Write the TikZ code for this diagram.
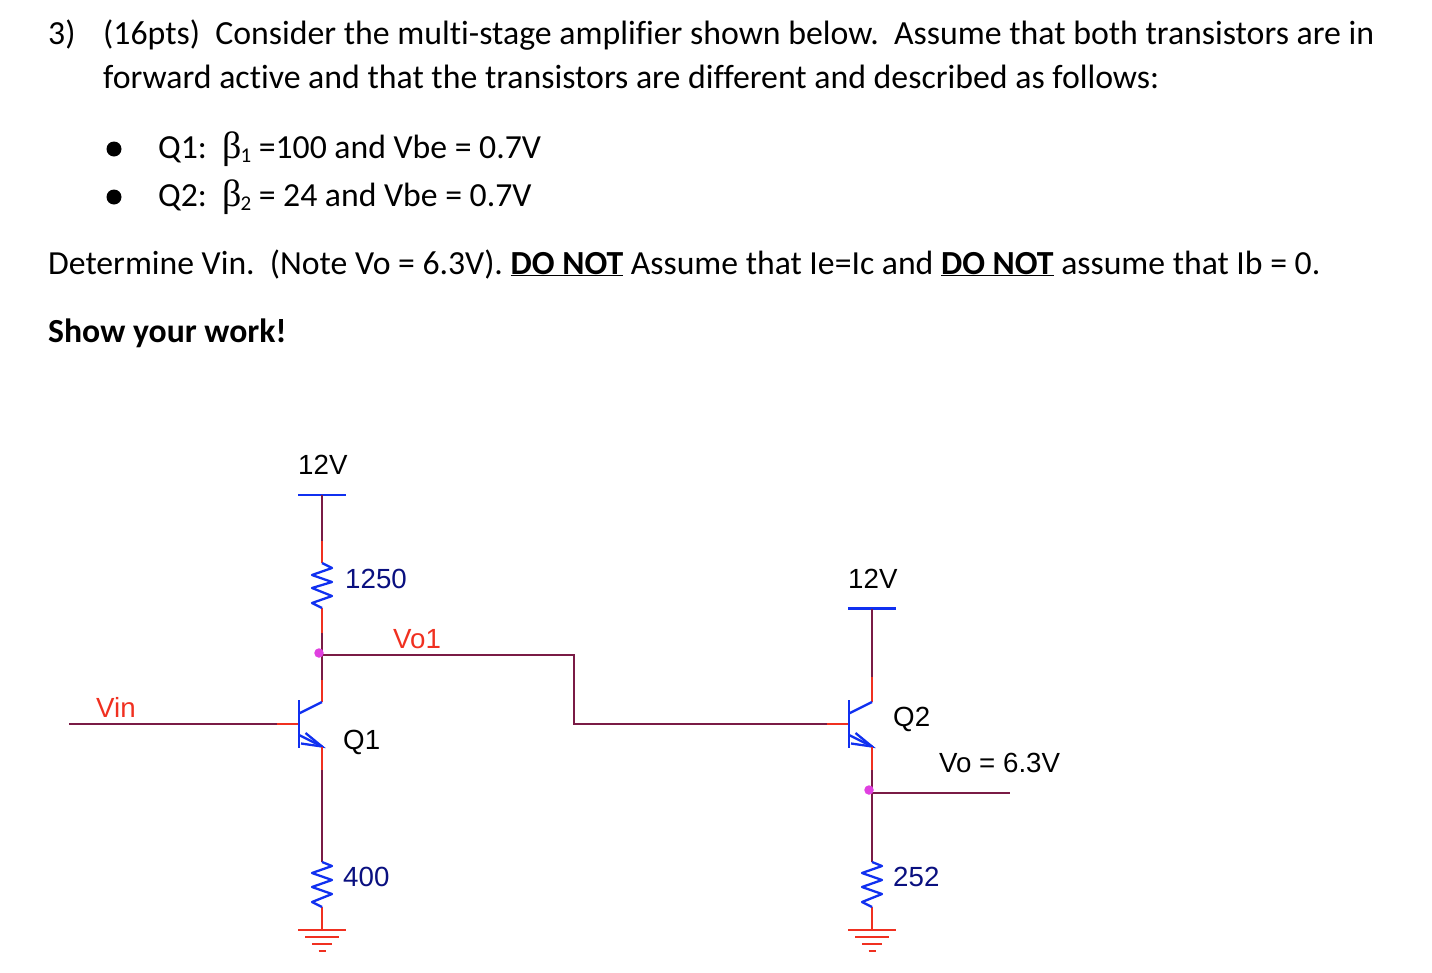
\documentclass[tikz,border=0pt]{standalone}
\usepackage{fontspec}
\setmainfont[RawFeature=-liga]{Carlito}
\newfontfamily\lab{Liberation Sans}
\newfontfamily\grk{Liberation Serif}
\newcommand{\bta}[1]{{\grk\fontsize{38}{38}\selectfont β}\kern-1pt\raisebox{-4pt}{\fontsize{21}{21}\selectfont #1}}
\definecolor{wm}{HTML}{7A1B45}
\definecolor{wr}{HTML}{F03020}
\definecolor{wb}{HTML}{1030F0}
\definecolor{nv}{HTML}{0A1080}
\definecolor{mg}{HTML}{E040E0}
\begin{document}
\begin{tikzpicture}[x=1pt,y=-1pt,
  txt/.style={anchor=base west,inner sep=0pt,font=\fontsize{33.7}{36}\selectfont,text=black},
  txtb/.style={anchor=base west,inner sep=0pt,font=\fontsize{33.8}{36}\selectfont,text=black},
  lbl/.style={anchor=base west,inner sep=0pt,font=\lab\fontsize{27.7}{32}\selectfont},
  mw/.style={draw=wm,line width=2.3pt},
  rw/.style={draw=wr,line width=2.3pt},
  bw/.style={draw=wb,line width=2.3pt},
  dotn/.style={circle,fill=mg,inner sep=0pt,minimum size=9.5pt},
  bull/.style={circle,fill=black,inner sep=0pt,minimum size=15pt}]
\useasboundingbox (0,0) rectangle (1432,972);
\node[txt] (t1) at (48,44) {3)};
\node[txtb] (t1b) at (103,44) {(16pts)\ \ Consider the multi-stage amplifier shown below.\ \ Assume that both transistors are in};
\node[txtb] (t2) at (103,88) {forward active and that the transistors are different and described as follows:};
\node[bull] (b1) at (114,149) {};
\node[bull] (b2) at (114,197) {};
\node[txt] (t3) at (158,158) {Q1:\ \ \bta{1} =100 and Vbe = 0.7V};
\node[txt] (t4) at (158,206) {Q2:\ \ \bta{2} = 24 and Vbe = 0.7V};
\node[txt] (t5) at (48,274) {Determine Vin.\ \ (Note Vo = 6.3V). \textbf{\underline{DO NOT}} Assume that Ie=Ic and \textbf{\underline{DO NOT}} assume that Ib = 0.};
\node[txt] (t6) at (48,342) {\textbf{Show your work!}};

% labels
\node[lbl,text=black] (v1) at (298,474) {12V};
\node[lbl,text=black] (v2) at (848,588) {12V};
\node[lbl,text=nv] (r1t) at (345,588) {1250};
\node[lbl,text=nv] (r2t) at (343,886) {400};
\node[lbl,text=nv] (r3t) at (893,886) {252};
\node[lbl,text=wr] (vo1) at (393,648) {Vo1};
\node[lbl,text=wr] (vin) at (96,717) {Vin};
\node[lbl,text=black] (q1t) at (343,749) {Q1};
\node[lbl,text=black] (q2t) at (893,726) {Q2};
\node[lbl,text=black] (vot) at (939,772) {Vo = 6.3V};

% coordinates
\foreach \n/\x in {a/322,b/872}{
  \coordinate (\n e) at (\x,746.5);
  \coordinate (\n c) at (\x,702);
  \coordinate (\n ew) at (\x,770);
  \coordinate (\n rt) at (\x,862);
  \coordinate (\n rb) at (\x,907);
  \coordinate (\n g) at (\x,930);
}
\coordinate (vcc1) at (322,495);
\coordinate (vcc1r) at (322,541);
\coordinate (r1a) at (322,563);
\coordinate (r1b) at (322,608);
\coordinate (r1c) at (322,633);
\coordinate (n1) at (322,655);
\coordinate (c1top) at (322,680);
\coordinate (in) at (69,724);
\coordinate (inr) at (277,724);
\coordinate (b1p) at (299,724);
\coordinate (jog1) at (574,655);
\coordinate (jog2) at (574,724);
\coordinate (inr2) at (827,724);
\coordinate (b2p) at (849,724);
\coordinate (vcc2) at (872,608.5);
\coordinate (c2top) at (872,677);
\coordinate (n2) at (872,793);
\coordinate (out) at (1010,793);

\draw[bw] (298,495) -- (346,495);
\draw[bw] (848,608.5) -- (896,608.5);
\draw[mw] (vcc1) -- (vcc1r);
\draw[rw] (vcc1r) -- (r1a);
\draw[rw] (r1b) -- (r1c);
\draw[mw] (r1c) -- (n1) -- (c1top);
\draw[rw] (c1top) -- (ac);
\draw[mw] (n1) -- (jog1) -- (jog2) -- (inr2);
\draw[rw] (inr2) -- (b2p);
\draw[mw] (in) -- (inr);
\draw[rw] (inr) -- (b1p);
\draw[mw] (vcc2) -- (c2top);
\draw[rw] (c2top) -- (bc);
\draw[mw] (n2) -- (out);
\draw[mw] (bew) -- (brt);
\draw[mw] (aew) -- (art);

\foreach \n/\x in {a/299,b/849}{
  \draw[bw] (\x,700) -- (\x,748);
  \draw[bw] (\x,713.5) -- (\n c);
  \draw[bw] (\x,735) -- (\n e);
  \draw[bw,line join=miter] (\x+6.5,733) -- (\n e) -- (\x+2,743.5);
  \draw[rw] (\n e) -- (\n ew);
  \draw[rw] (\n rb) -- (\n g);
}
% resistors
\draw[bw,line join=round] (322,563) -- ++(10,5) -- ++(-20,7) -- ++(20,7) -- ++(-20,6) -- ++(20,8) -- ++(-20,7) -- ++(10,5);
\foreach \x in {322,872}{
  \draw[bw,line join=round] (\x,862) -- ++(10,4) -- ++(-20,7) -- ++(20,7) -- ++(-20,7) -- ++(20,7) -- ++(-20,8) -- ++(10,5);
  \draw[rw] (\x-24,930) -- (\x+24,930);
  \draw[rw] (\x-17,937) -- (\x+17,937);
  \draw[rw] (\x-10,944) -- (\x+10,944);
  \draw[rw] (\x-3.5,951) -- (\x+3.5,951);
}
\node[dotn] (d1) at (319,653) {};
\node[dotn] (d2) at (869,790) {};
\end{tikzpicture}
\end{document}
